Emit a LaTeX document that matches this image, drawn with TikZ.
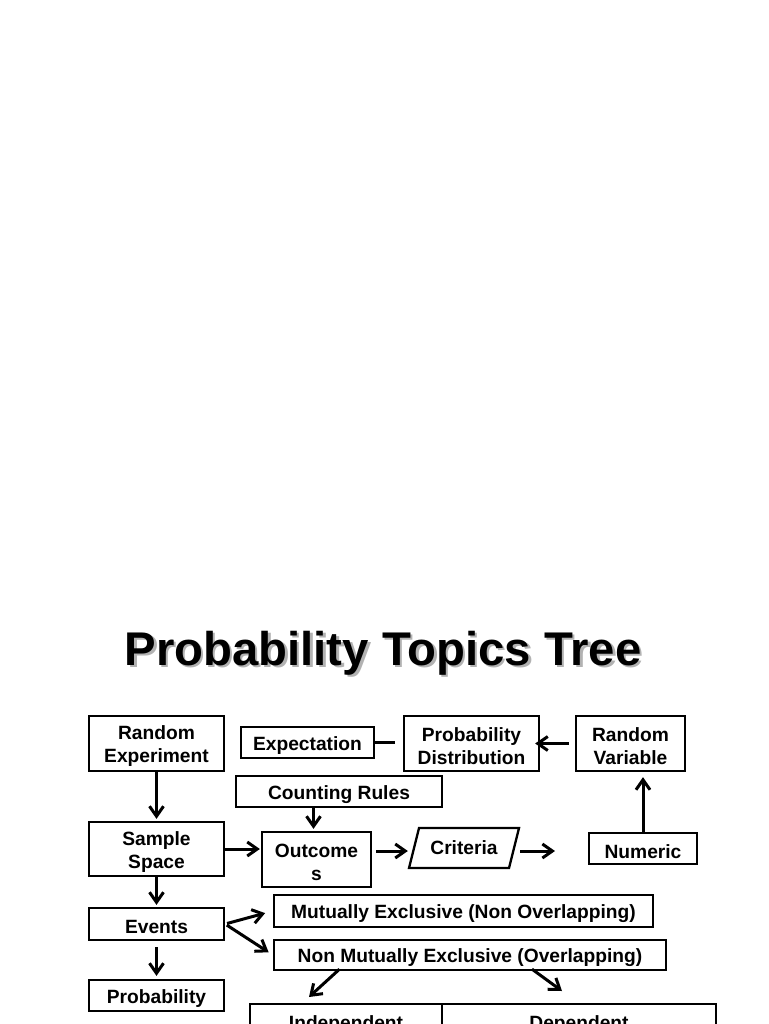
\documentclass[tikz,border=0pt]{standalone}
\usepackage{fontspec}
\setmainfont{Liberation Sans}
\usetikzlibrary{arrows.meta}
\newcommand\tallstrut{\rule{0pt}{19.8pt}}
\begin{document}
\begin{tikzpicture}[x=1pt,y=-1pt,
  box/.style={draw, line width=2.3pt, align=center, inner sep=0pt,
    font=\fontsize{19.2}{23}\selectfont\bfseries},
  plain/.style={line width=3pt},
  arr/.style={line width=3pt, -{Straight Barb[length=10pt,width=14pt]}},
  ttl/.style={font=\fontsize{47.3}{50}\selectfont\bfseries}]
\useasboundingbox (0,0) rectangle (768,1024);
% title
\node[ttl, text=black!30] (tsh) at (385.5,655.5) {Probability Topics Tree};
\node[ttl] (title) at (383,653) {Probability Topics Tree};
% row 1
\node[box, minimum width=135pt, minimum height=55pt] (re) at (156.5,743.5) {\tallstrut Random\\Experiment};
\node[box, minimum width=133pt, minimum height=31pt] (exp) at (307.5,742.5) {\tallstrut Expectation};
\node[box, minimum width=135pt, minimum height=55pt] (pd) at (471.5,743.5) {\tallstrut Probability\\Distribution};
\node[box, minimum width=109pt, minimum height=55pt] (rv) at (630.5,743.5) {\tallstrut Random\\Variable};
% row 2
\node[box, minimum width=206pt, minimum height=31pt] (cnt) at (339,791.5) {\tallstrut Counting Rules};
\node[box, minimum width=135pt, minimum height=54pt] (ss) at (156.5,849) {\tallstrut Sample\\Space};
\node[box, minimum width=109pt, minimum height=55pt] (oc) at (316.5,859.5) {\tallstrut Outcome\\s};
\node[box, draw=none, minimum width=110pt, minimum height=40pt] (cr) at (464,848) {Criteria};
\draw[line width=2.3pt] (419,828) -- (519,828) -- (509,868) -- (409,868) -- cycle;
\coordinate (crend) at (555,851);
\node[box, minimum width=108pt, minimum height=31pt] (num) at (643,848.5) {\tallstrut Numeric};
% row 3
\node[box, minimum width=135pt, minimum height=32pt] (ev) at (156.5,924) {\tallstrut Events};
\node[box, minimum width=379pt, minimum height=32pt] (me) at (463.5,911) {\tallstrut Mutually Exclusive (Non Overlapping)};
\node[box, minimum width=392pt, minimum height=30pt] (nme) at (470,955) {\tallstrut Non Mutually Exclusive (Overlapping)};
\node[box, minimum width=135pt, minimum height=31pt] (prob) at (156.5,995.5) {\tallstrut Probability};
% bottom table
\node[box, minimum width=192pt, minimum height=36pt] (ind) at (346,1022) {\tallstrut Independent};
\node[box, minimum width=274pt, minimum height=36pt] (dep) at (579,1022) {\tallstrut Dependent};
\coordinate (indtip) at (309,997);
\coordinate (deptip) at (562,991);
% connectors
\draw[arr, shorten >=2pt] (re.south) -- (ss.north);
\draw[plain] (exp.east) -- ([xshift=-8pt]exp.east -| pd.west);
\draw[arr, shorten <=6pt, shorten >=-5pt] (rv.west) -- (rv.west -| pd.east);
\draw[arr, shorten >=2pt] ([xshift=-3pt]oc.north |- cnt.south) -- ([xshift=-3pt]oc.north);
\draw[arr, shorten >=1pt] (ss.east) -- (ss.east -| oc.west);
\draw[arr, shorten <=4pt] (oc.east |- crend) -- (cr.west |- crend);
\draw[arr] (cr.east |- crend) -- (crend);
\draw[arr, shorten >=5pt] (num.north) -- (num.north |- rv.south);
\draw[arr, shorten >=2pt] (ss.south) -- (ev.north);
\draw[arr, shorten <=2pt, shorten >=8pt] (ev.east) -- (me.west);
\draw[arr, shorten <=2pt, shorten >=5pt] (ev.east) -- (nme.west);
\draw[arr, shorten <=6pt, shorten >=3pt] (ev.south) -- (prob.north);
\draw[arr] ([xshift=-130.5pt,yshift=2pt]nme.south) -- (indtip);
\draw[arr] ([xshift=62pt,yshift=2pt]nme.south) -- (deptip);
\end{tikzpicture}
\end{document}
